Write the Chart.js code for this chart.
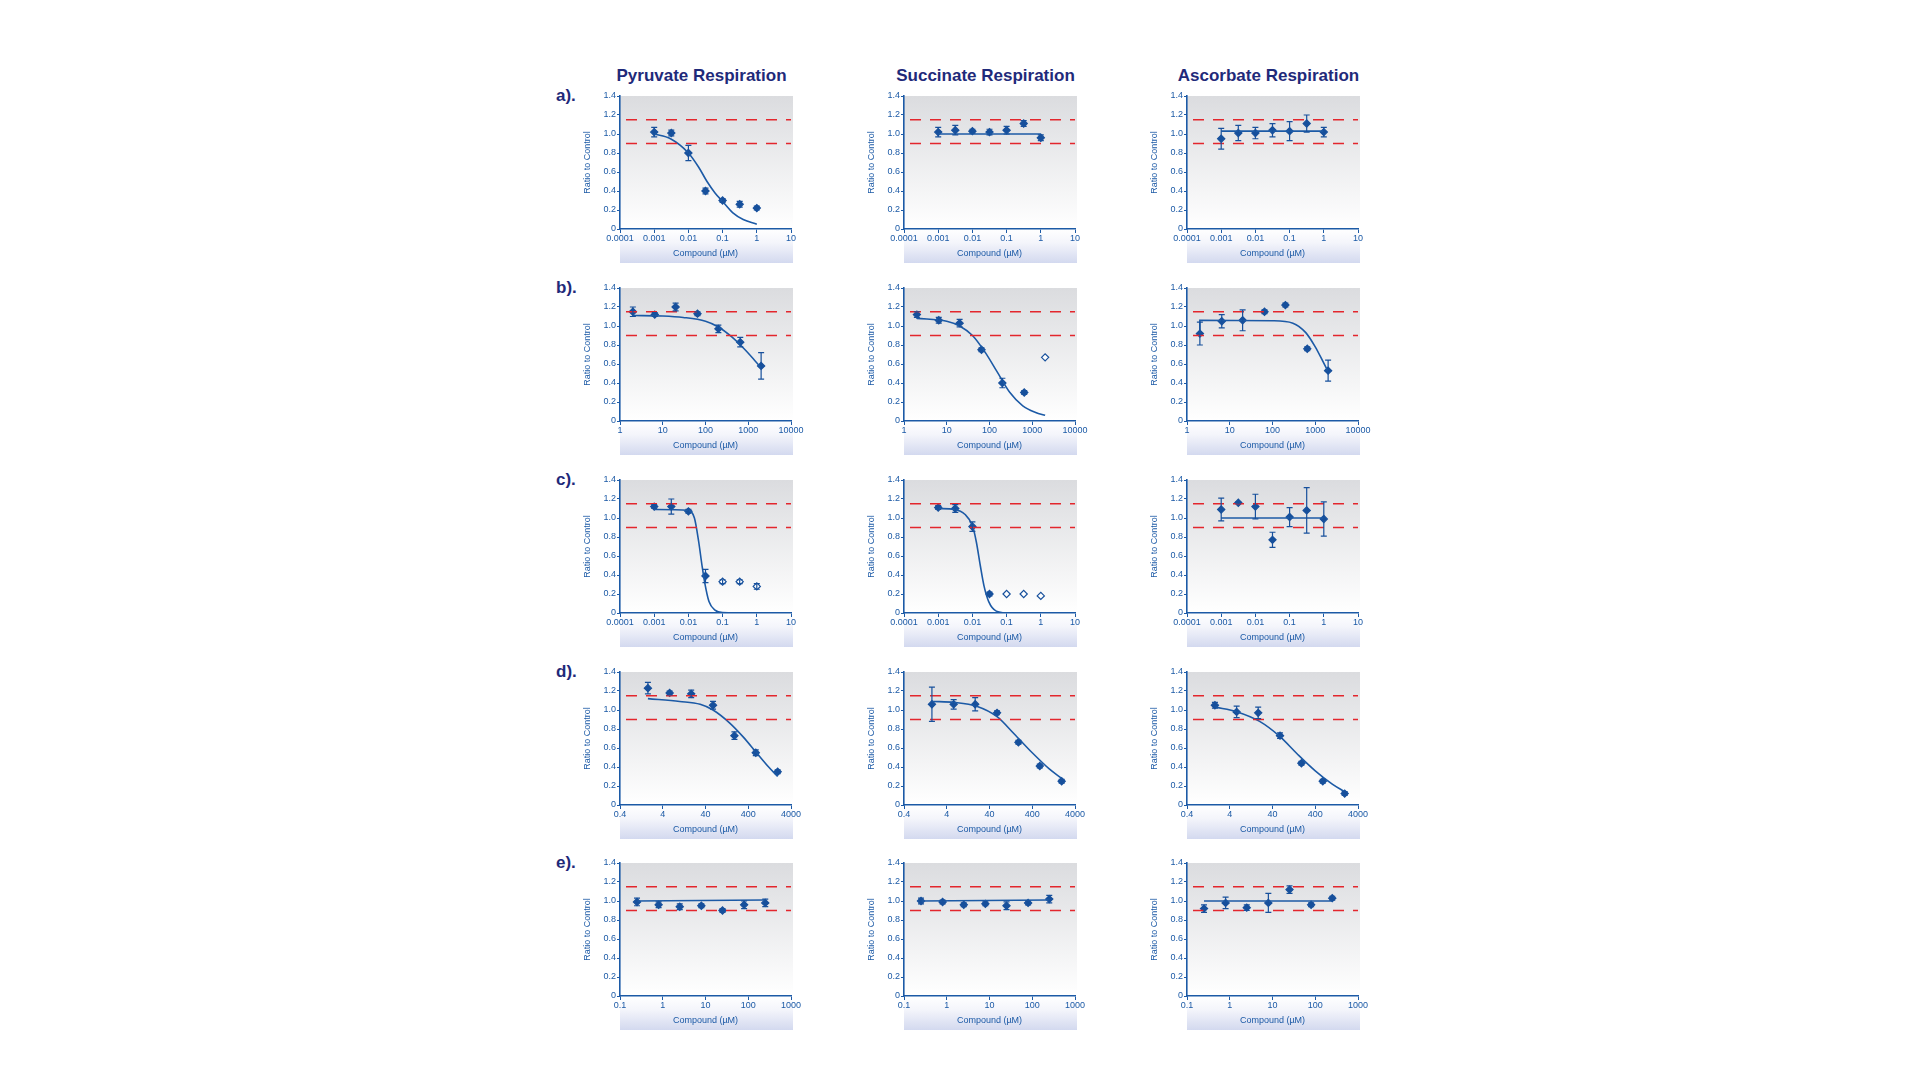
<!DOCTYPE html>
<html>
<head>
<meta charset="utf-8">
<script src="https://cdn.jsdelivr.net/npm/chart.js@4.4.1/dist/chart.umd.min.js"></script>
<style>
  body { margin: 0; width: 1920px; height: 1080px; background: #fff; position: relative; overflow: hidden;
         font-family: "Liberation Sans", Arial, sans-serif; }
  canvas { position: absolute; }
  .title { position: absolute; width: 260px; text-align: center; font-weight: bold; font-size: 17px; color: #1f2a7a; }
  .row { position: absolute; font-weight: bold; font-size: 17px; color: #1f2a7a; }
</style>
</head>
<body>
<script>
/* dose arrays per row */
const dosesAC = [0.001, 0.00316, 0.01, 0.0316, 0.1, 0.316, 1];
const dosesB = [2, 6.5, 20, 65, 200, 650, 2000];
const dosesD = [1.8, 5.8, 18.5, 60, 190, 600, 1950];
const dosesE = [0.25, 0.8, 2.5, 8, 25, 80, 250];

const ticksAC = [0.0001, 0.001, 0.01, 0.1, 1, 10];
const ticksB = [1, 10, 100, 1000, 10000];
const ticksD = [0.4, 4, 40, 400, 4000];
const ticksE = [0.1, 1, 10, 100, 1000];

const refLines = [1.15, 0.9];

// row a
const pyrA_y = [1.02, 1.01, 0.80, 0.40, 0.30, 0.26, 0.22];
const pyrA_err = [0.05, 0.03, 0.08, 0.03, 0.02, 0.03, 0.02];
const pyrA_fitX = [0.001, 0.003, 0.01, 0.02, 0.035, 0.06, 0.1, 0.2, 0.4, 1];
const pyrA_fitY = [1.0, 0.95, 0.80, 0.65, 0.50, 0.38, 0.29, 0.17, 0.10, 0.05];
const sucA_y = [1.02, 1.04, 1.03, 1.02, 1.04, 1.11, 0.96];
const sucA_err = [0.05, 0.05, 0.02, 0.03, 0.04, 0.03, 0.03];
const sucA_fitX = [0.001, 1];
const sucA_fitY = [1.0, 1.0];
const ascA_y = [0.95, 1.01, 1.01, 1.04, 1.03, 1.11, 1.02];
const ascA_err = [0.11, 0.08, 0.06, 0.07, 0.10, 0.09, 0.05];
const ascA_fitX = [0.001, 1];
const ascA_fitY = [1.03, 1.03];

// row b
const pyrB_y = [1.15, 1.12, 1.20, 1.13, 0.97, 0.83, 0.58];
const pyrB_err = [0.05, 0.02, 0.04, 0.02, 0.04, 0.05, 0.14];
const pyrB_fitX = [2, 10, 30, 100, 200, 400, 800, 1400, 2000];
const pyrB_fitY = [1.11, 1.105, 1.09, 1.05, 0.99, 0.89, 0.76, 0.64, 0.56];
const sucB_y = [1.12, 1.06, 1.03, 0.75, 0.40, 0.30, 0.67];
const sucB_err = [0.03, 0.03, 0.04, 0.02, 0.05, 0.02, 0];
const sucB_open = [false, false, false, false, false, false, true];
const sucB_fitX = [2, 10, 20, 40, 80, 150, 300, 600, 1200, 2000];
const sucB_fitY = [1.08, 1.05, 1.0, 0.9, 0.72, 0.52, 0.30, 0.16, 0.09, 0.06];
const ascB_y = [0.92, 1.05, 1.06, 1.15, 1.22, 0.76, 0.53];
const ascB_err = [0.12, 0.07, 0.11, 0.02, 0.02, 0.02, 0.11];
const ascB_fitX = [2, 2, 100, 300, 600, 1000, 1500, 2000];
const ascB_fitY = [0.92, 1.06, 1.055, 1.03, 0.93, 0.78, 0.63, 0.52];

// row c
const pyrC_y = [1.12, 1.12, 1.07, 0.39, 0.33, 0.33, 0.28];
const pyrC_err = [0.02, 0.08, 0.02, 0.07, 0.02, 0.02, 0.03];
const pyrC_open = [false, false, false, false, true, true, true];
const pyrC_fitX = [0.001, 0.01, 0.015, 0.02, 0.025, 0.03, 0.04, 0.06, 0.1, 1];
const pyrC_fitY = [1.09, 1.08, 1.0, 0.75, 0.5, 0.32, 0.12, 0.03, 0.005, 0];
const sucC_y = [1.11, 1.10, 0.91, 0.20, 0.20, 0.20, 0.18];
const sucC_err = [0.02, 0.04, 0.05, 0.02, 0, 0, 0];
const sucC_open = [false, false, false, false, true, true, true];
const sucC_fitX = [0.001, 0.003, 0.006, 0.01, 0.013, 0.017, 0.022, 0.03, 0.05, 0.1, 1];
const sucC_fitY = [1.10, 1.09, 1.04, 0.92, 0.75, 0.5, 0.28, 0.12, 0.02, 0.003, 0];
const ascC_y = [1.09, 1.16, 1.12, 0.77, 1.01, 1.08, 0.99];
const ascC_err = [0.12, 0.01, 0.13, 0.08, 0.10, 0.24, 0.18];
const ascC_fitX = [0.001, 1];
const ascC_fitY = [1.0, 1.0];

// row d
const pyrD_y = [1.23, 1.18, 1.17, 1.05, 0.73, 0.55, 0.35];
const pyrD_err = [0.06, 0.02, 0.04, 0.04, 0.04, 0.03, 0.02];
const pyrD_fitX = [1.8, 10, 30, 60, 150, 300, 600, 1200, 1950];
const pyrD_fitY = [1.12, 1.09, 1.06, 1.0, 0.86, 0.72, 0.56, 0.40, 0.30];
const sucD_y = [1.06, 1.06, 1.06, 0.97, 0.66, 0.41, 0.25];
const sucD_err = [0.18, 0.05, 0.07, 0.02, 0.02, 0.02, 0.02];
const sucD_fitX = [1.8, 6, 20, 60, 150, 400, 1000, 1950];
const sucD_fitY = [1.09, 1.08, 1.04, 0.93, 0.75, 0.55, 0.38, 0.28];
const ascD_y = [1.05, 0.98, 0.97, 0.73, 0.44, 0.25, 0.12];
const ascD_err = [0.03, 0.06, 0.06, 0.03, 0.02, 0.02, 0.02];
const ascD_fitX = [1.8, 6, 20, 60, 150, 400, 1000, 1950];
const ascD_fitY = [1.03, 0.98, 0.88, 0.72, 0.54, 0.36, 0.22, 0.14];

// row e
const pyrE_y = [0.99, 0.96, 0.94, 0.95, 0.90, 0.96, 0.98];
const pyrE_err = [0.04, 0.03, 0.03, 0.02, 0.02, 0.04, 0.04];
const pyrE_fitX = [0.25, 250];
const pyrE_fitY = [1.0, 1.01];
const sucE_y = [1.0, 0.99, 0.96, 0.97, 0.95, 0.98, 1.02];
const sucE_err = [0.03, 0.02, 0.02, 0.02, 0.04, 0.02, 0.04];
const sucE_fitX = [0.25, 250];
const sucE_fitY = [1.0, 1.01];
const ascE_y = [0.92, 0.98, 0.93, 0.98, 1.12, 0.96, 1.03];
const ascE_err = [0.04, 0.06, 0.03, 0.10, 0.04, 0.02, 0.02];
const ascE_fitX = [0.25, 250];
const ascE_fitY = [1.0, 1.0];

const colTitles = ["Pyruvate Respiration", "Succinate Respiration", "Ascorbate Respiration"];
const rowLabels = ["a).", "b).", "c).", "d).", "e)."];

const BLUE = "#1c5aa6";
const MARK = "#17509c";
const RED = "#e3262d";

const rows = [
  { doses: dosesAC, ticks: ticksAC, panels: [
    [pyrA_y, pyrA_err, null, pyrA_fitX, pyrA_fitY],
    [sucA_y, sucA_err, null, sucA_fitX, sucA_fitY],
    [ascA_y, ascA_err, null, ascA_fitX, ascA_fitY]] },
  { doses: dosesB, ticks: ticksB, panels: [
    [pyrB_y, pyrB_err, null, pyrB_fitX, pyrB_fitY],
    [sucB_y, sucB_err, sucB_open, sucB_fitX, sucB_fitY],
    [ascB_y, ascB_err, null, ascB_fitX, ascB_fitY]] },
  { doses: dosesAC, ticks: ticksAC, panels: [
    [pyrC_y, pyrC_err, pyrC_open, pyrC_fitX, pyrC_fitY],
    [sucC_y, sucC_err, sucC_open, sucC_fitX, sucC_fitY],
    [ascC_y, ascC_err, null, ascC_fitX, ascC_fitY]] },
  { doses: dosesD, ticks: ticksD, panels: [
    [pyrD_y, pyrD_err, null, pyrD_fitX, pyrD_fitY],
    [sucD_y, sucD_err, null, sucD_fitX, sucD_fitY],
    [ascD_y, ascD_err, null, ascD_fitX, ascD_fitY]] },
  { doses: dosesE, ticks: ticksE, panels: [
    [pyrE_y, pyrE_err, null, pyrE_fitX, pyrE_fitY],
    [sucE_y, sucE_err, null, sucE_fitX, sucE_fitY],
    [ascE_y, ascE_err, null, ascE_fitX, ascE_fitY]] },
];

// layout (page pixels)
const plotLefts = [620, 904, 1187];
const plotTops = [96, 288, 480, 672, 863];
const PW = 171, PH = 133;
const YW = 38, PADT = 8, XH = 30, PADB = 14, PADR = 16;

const panelBg = {
  id: "panelBg",
  beforeDraw(chart) {
    const { ctx, chartArea: a } = chart;
    ctx.save();
    let g = ctx.createLinearGradient(0, a.top, 0, a.bottom);
    g.addColorStop(0, "#dbdcdf");
    g.addColorStop(1, "#ffffff");
    ctx.fillStyle = g;
    ctx.fillRect(a.left, a.top, a.right - a.left + 2, a.bottom - a.top);
    g = ctx.createLinearGradient(0, a.bottom, 0, a.bottom + 34);
    g.addColorStop(0, "#ffffff");
    g.addColorStop(0.4, "#f4f5fb");
    g.addColorStop(1, "#d3d9ef");
    ctx.fillStyle = g;
    ctx.fillRect(a.left, a.bottom, a.right - a.left + 2, 34);
    ctx.restore();
  },
  afterDatasetsDraw(chart) {
    const { ctx } = chart;
    const ys = chart.scales.y;
    chart.data.datasets.forEach((ds, i) => {
      if (!ds.errs) return;
      const meta = chart.getDatasetMeta(i);
      ctx.save();
      ctx.strokeStyle = MARK;
      ctx.lineWidth = 1.2;
      meta.data.forEach((pt, j) => {
        const e = ds.errs[j];
        if (!e) return;
        const y1 = ys.getPixelForValue(ds.data[j].y - e);
        const y2 = ys.getPixelForValue(ds.data[j].y + e);
        ctx.beginPath();
        ctx.moveTo(pt.x, y1); ctx.lineTo(pt.x, y2);
        ctx.moveTo(pt.x - 3, y1); ctx.lineTo(pt.x + 3, y1);
        ctx.moveTo(pt.x - 3, y2); ctx.lineTo(pt.x + 3, y2);
        ctx.stroke();
      });
      ctx.restore();
    });
  },
};

function fmtTick(v) {
  return String(+v.toPrecision(3));
}

function makePanel(r, c) {
  const row = rows[r];
  const [ys, errs, open, fitX, fitY] = row.panels[c];
  const xmin = row.ticks[0], xmax = row.ticks[row.ticks.length - 1];
  const cv = document.createElement("canvas");
  const w = YW + PW + PADR, h = PADT + PH + XH + PADB;
  cv.width = w; cv.height = h;
  cv.style.left = (plotLefts[c] - YW) + "px";
  cv.style.top = (plotTops[r] - PADT) + "px";
  document.body.appendChild(cv);

  const font = { family: "'Liberation Sans', Arial, sans-serif", size: 9 };
  const datasets = refLines.map((v) => ({
    type: "line",
    data: [{ x: xmin, y: v }, { x: xmax, y: v }],
    borderColor: RED, borderWidth: 1.6, borderDash: [11, 9], borderDashOffset: -6,
    pointRadius: 0,
  }));
  datasets.push({
    type: "line",
    data: fitX.map((x, i) => ({ x, y: fitY[i] })),
    borderColor: BLUE, borderWidth: 1.6, pointRadius: 0,
    cubicInterpolationMode: "monotone",
  });
  datasets.push({
    type: "scatter",
    data: row.doses.map((x, i) => ({ x, y: ys[i] })),
    errs,
    pointStyle: "rectRot",
    pointRadius: 3.6,
    pointBorderWidth: 1.2,
    pointBorderColor: MARK,
    pointBackgroundColor: ys.map((_, i) => (open && open[i] ? "#ffffff" : MARK)),
  });

  new Chart(cv, {
    type: "scatter",
    data: { datasets },
    plugins: [panelBg],
    options: {
      responsive: false,
      animation: false,
      devicePixelRatio: 1,
      layout: { padding: { top: PADT, right: PADR, bottom: PADB, left: 0 } },
      plugins: { legend: { display: false }, tooltip: { enabled: false } },
      scales: {
        x: {
          type: "logarithmic", min: xmin, max: xmax,
          afterBuildTicks: (s) => { s.ticks = row.ticks.map((v) => ({ value: v })); },
          afterFit: (s) => { s.height = XH; },
          ticks: { color: BLUE, font, padding: 0, maxRotation: 0, autoSkip: false, callback: (v) => fmtTick(v) },
          grid: { drawOnChartArea: false, drawTicks: true, tickLength: 4, color: BLUE },
          border: { color: BLUE, width: 1.6 },
          title: { display: true, text: "Compound (µM)", color: BLUE, font, padding: { top: 2, bottom: 0 } },
        },
        y: {
          min: 0, max: 1.4,
          afterFit: (s) => { s.width = YW; },
          ticks: { stepSize: 0.2, color: BLUE, font, padding: 1,
                   callback: (v) => (v === 0 ? "0" : v.toFixed(1)) },
          grid: { drawOnChartArea: false, drawTicks: true, tickLength: 3, color: BLUE },
          border: { color: BLUE, width: 1.6 },
          title: { display: true, text: "Ratio to Control", color: BLUE, font, padding: 0 },
        },
      },
    },
  });
}

colTitles.forEach((t, c) => {
  const d = document.createElement("div");
  d.className = "title";
  d.textContent = t;
  d.style.left = (plotLefts[c] + PW / 2 - 134) + "px";
  d.style.top = "66px";
  document.body.appendChild(d);
});
rowLabels.forEach((t, r) => {
  const d = document.createElement("div");
  d.className = "row";
  d.textContent = t;
  d.style.left = "556px";
  d.style.top = (plotTops[r] - 10) + "px";
  document.body.appendChild(d);
});
for (let r = 0; r < rows.length; r++) {
  for (let c = 0; c < 3; c++) makePanel(r, c);
}
</script>
</body>
</html>
